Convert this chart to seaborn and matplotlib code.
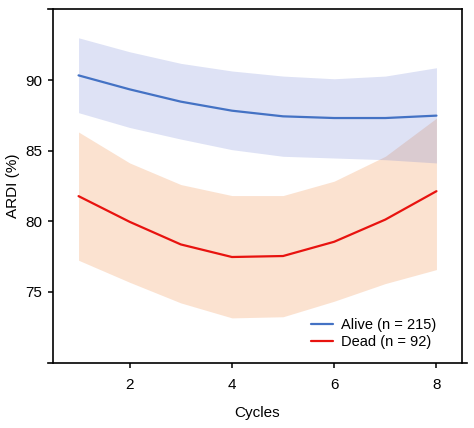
import pandas as pd
import matplotlib
matplotlib.use('Agg')
import matplotlib.pyplot as plt
import seaborn as sns

# 데이터
cycles = [1, 2, 3, 4, 5, 6, 7, 8]
alive_mean = [90.33, 89.34, 88.47, 87.83, 87.43, 87.31, 87.31, 87.48]
alive_upper = [92.99, 92.0, 91.18, 90.64, 90.28, 90.09, 90.28, 90.87]
alive_lower = [87.69, 86.64, 85.82, 85.07, 84.6, 84.48, 84.36, 84.13]
dead_mean = [81.78, 79.96, 78.36, 77.47, 77.54, 78.55, 80.12, 82.13]
dead_upper = [86.32, 84.13, 82.6, 81.82, 81.82, 82.84, 84.6, 87.3]
dead_lower = [77.24, 75.68, 74.22, 73.16, 73.24, 74.34, 75.59, 76.58]
labels = ['Alive (n = 215)', 'Dead (n = 92)']

df = pd.DataFrame({
    'Cycles': cycles * 2,
    'ARDI': alive_mean + dead_mean,
    'group': [labels[0]] * 8 + [labels[1]] * 8,
})

sns.set_style('white')
plt.rcParams['font.family'] = ['Liberation Sans', 'DejaVu Sans']
plt.rcParams['text.color'] = 'black'
plt.rcParams['axes.labelcolor'] = 'black'

fig = plt.figure(figsize=(4.74, 4.28), dpi=100)
ax = fig.add_axes([0.1118, 0.153, 0.8629, 0.825])

blue = '#4472c4'
red = '#e8130f'

# 신뢰구간 영역
ax.fill_between(cycles, dead_lower, dead_upper, color='#f08c46', alpha=0.25, linewidth=0)
ax.fill_between(cycles, alive_lower, alive_upper, color='#5a6fd0', alpha=0.2, linewidth=0)

sns.lineplot(data=df, x='Cycles', y='ARDI', hue='group', palette=[blue, red],
             linewidth=1.6, ax=ax)

ax.set_xlim(0.5, 8.5)
ax.set_ylim(70, 95)
ax.set_xticks([2, 4, 6, 8])
ax.set_yticks([75, 80, 85, 90])
ax.tick_params(axis='both', bottom=True, left=True, direction='out', length=3.5,
               width=1.1, labelsize=11, color='black', labelcolor='black', pad=4)
ax.tick_params(axis='x', pad=8)
ax.set_xlabel('Cycles', fontsize=11, labelpad=10)
ax.set_ylabel('ARDI (%)', fontsize=11, labelpad=4)

for s in ax.spines.values():
    s.set_color('black')
    s.set_linewidth(1.2)
ax.spines['bottom'].set_bounds(0.4, 8.6)
ax.spines['top'].set_bounds(0.4, 8.5)

leg = ax.legend(loc='lower right', bbox_to_anchor=(0.97, 0.0), frameon=False,
                fontsize=10.5, handlelength=1.5, handletextpad=0.55, labelspacing=0.2)
leg.set_title(None)

fig.savefig('out.png', dpi=100)
